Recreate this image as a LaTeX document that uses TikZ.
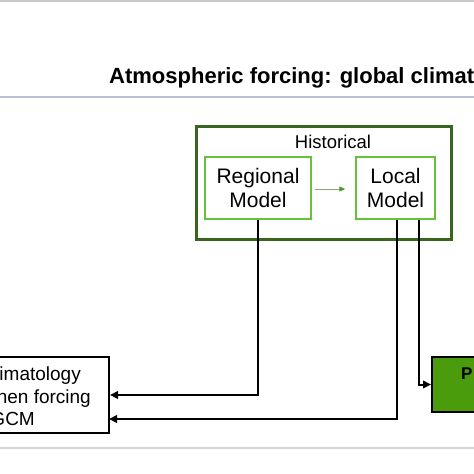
\documentclass[tikz,border=0pt]{standalone}
\usepackage{fontspec}
\setmainfont{Liberation Sans}
\usetikzlibrary{arrows.meta,calc}
\definecolor{darkgr}{HTML}{38661E}
\definecolor{lightgr}{HTML}{66C23A}
\definecolor{fillgr}{HTML}{4A9C0C}
\definecolor{thinar}{HTML}{8AA870}
\definecolor{headgr}{HTML}{4E9A2A}
\definecolor{rulegray}{HTML}{C8C8C8}
\definecolor{ruleblue}{HTML}{B4C0CE}
\tikzset{
  modelbox/.style={draw=lightgr, line width=2.5pt, minimum width=#1, minimum height=62pt, inner sep=0pt, align=center, font=\fontsize{21}{24}\selectfont},
  conn/.style={draw=black, line width=2pt, -{Triangle[length=8pt,width=7.5pt]}},
  climline/.style={anchor=base east, inner sep=0pt, font=\fontsize{19}{22.8}\selectfont},
}
\begin{document}
\begin{tikzpicture}[x=1pt,y=-1pt]
\useasboundingbox (0,0) rectangle (474,474);
\clip (0,0) rectangle (474,474);
\fill[white] (0,0) rectangle (474,474);
% rules
\draw[rulegray, line width=2.5pt] (0,0.5) -- (474,0.5);
\draw[ruleblue, line width=1.2pt] (0,97) -- (474,97);
\draw[rulegray!80, line width=1.2pt] (0,448) -- (474,448);
% title
\node[anchor=base west, inner sep=0pt, font=\fontsize{22}{26}\selectfont\bfseries] (title) at (109,83) {Atmospheric forcing: global climate model};
% historical frame
\node[draw=darkgr, line width=3pt, minimum width=254.5pt, minimum height=113pt, inner sep=0pt] (hist) at (323.75,183) {};
\node[font=\fontsize{18.5}{22}\selectfont, inner sep=0pt, anchor=base] (histlab) at (333,148) {Historical};
\node[modelbox=106pt] (regional) at (258,188) {Regional\\Model};
\node[modelbox=79pt] (local) at (395.5,188) {Local\\Model};
\draw[thinar, line width=1pt, -{Triangle[length=6pt,width=5pt,fill=headgr,color=headgr]}] (regional.east) ++(3,1) coordinate (ga) -- ($(local.west)+(-9.5,1)$) coordinate (gb);
% climatology box
\node[draw=black, line width=2pt, minimum width=120pt, minimum height=76pt, inner sep=0pt] (clim) at (49,395) {};
\node[climline] (cl1) at (81,380) {Climatology};
\node[climline] (cl2) at (91,403) {then forcing};
\node[climline] (cl3) at (35,425) {GCM};
% green output box
\node[draw=black, fill=fillgr, line width=2pt, minimum width=60pt, minimum height=55pt, inner sep=0pt] (out) at (462,384.5) {};
\node[anchor=base west, inner sep=0pt, font=\fontsize{17}{20}\selectfont\bfseries] (outtext) at (461,379) {P};
% connectors
\coordinate (c1) at (109,419);
\draw[conn] (regional.south) |- (clim.east);
\draw[conn] ([xshift=1pt]local.south) |- (c1);
\draw[conn] ([xshift=23.5pt]local.south) |- (out.west);
\end{tikzpicture}
\end{document}
